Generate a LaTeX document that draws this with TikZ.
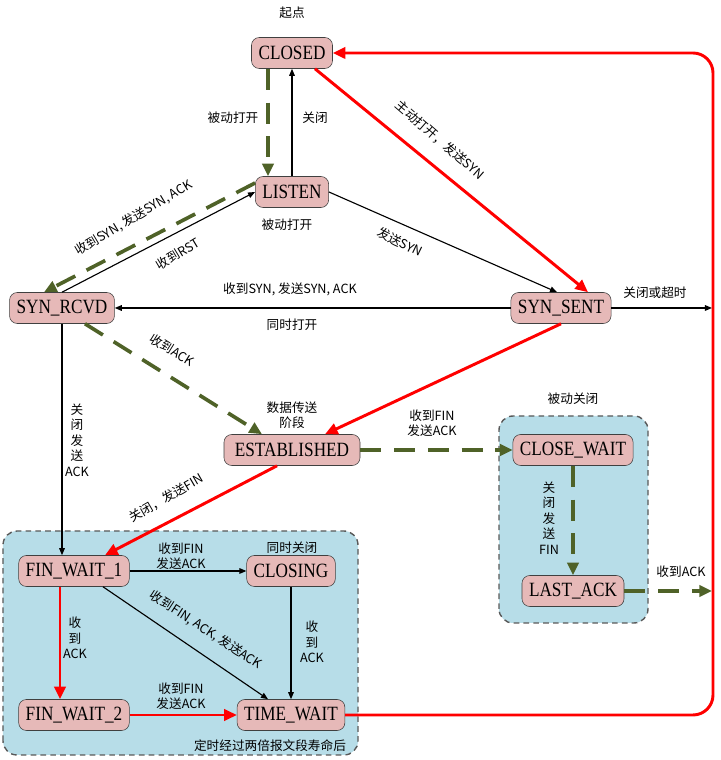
\documentclass[tikz,border=0pt]{standalone}
\usepackage{fontspec}
\setmainfont{Noto Sans CJK SC}
\newfontfamily\statefont[FakeStretch=0.85]{Liberation Serif}
\usetikzlibrary{arrows.meta}
\definecolor{statefill}{RGB}{230,185,184}
\definecolor{stateline}{RGB}{64,64,64}
\definecolor{groupfill}{RGB}{183,221,232}
\definecolor{groupline}{RGB}{89,89,89}
\definecolor{passive}{RGB}{79,98,40}
\definecolor{active}{RGB}{255,0,0}

\tikzset{
  state/.style={draw=stateline,fill=statefill,rounded corners=5.5pt,minimum height=0.775cm,inner xsep=5pt,font=\Large\statefont},
  group/.style={draw=groupline,fill=groupfill,dash pattern=on 4pt off 3pt,rounded corners=10pt,line width=1pt},
  normal/.style={-{Triangle[length=5pt,width=4pt]},line width=0.8pt,black},
  client/.style={-{Triangle[length=9pt,width=8pt]},line width=2.1pt,active},
  server/.style={-{Triangle[length=9pt,width=8pt]},line width=2.6pt,passive,dash pattern=on 15pt off 9pt},
}

\begin{document}
\begin{tikzpicture}
%\draw[step=1cm,gray,very thin] (0,0) grid (18,19); %background grid
\useasboundingbox (0,0) rectangle (18,19);

\draw[group] (0.075,0.125) rectangle (8.95,5.725);
\draw[group] (12.475,3.425) rectangle (16.2,8.6);

\node[state] (closed) at (7.3,17.675) {CLOSED};
\node[state] (listen) at (7.3,14.2) {LISTEN};
\node[state] (synrcvd) at (1.55,11.3) {SYN\_RCVD};
\node[state] (synsent) at (14.025,11.3) {SYN\_SENT};
\node[state,minimum width=3.4cm] (estab) at (7.3,7.75) {ESTABLISHED};
\node[state] (closewait) at (14.325,7.75) {CLOSE\_WAIT};
\node[state] (lastack) at (14.325,4.225) {LAST\_ACK};
\node[state] (finwaita) at (1.85,4.725) {FIN\_WAIT\_1};
\node[state] (closing) at (7.275,4.725) {CLOSING};
\node[state] (finwaitb) at (1.85,1.125) {FIN\_WAIT\_2};
\node[state] (timewait) at (7.275,1.125) {TIME\_WAIT};

\coordinate (timeout) at (17.8,11.3);
\coordinate (lastout) at (17.8,4.225);
\coordinate (loop) at (17.825,9);

\node[] (startlbl) at (7.3,18.675) {\small 起点};
\node[] (passopen) at (5.825,16.05) {\small 被动打开};
\node[] (closelbl) at (7.875,16.05) {\small 关闭};
\node[] (passopenb) at (7.175,13.375) {\small 被动打开};
\node[rotate=31] (rcvsyn) at (3.35,13.55) {\small 收到SYN, 发送SYN, ACK};
\node[rotate=31] (rcvrst) at (4.45,12.65) {\small 收到RST};
\node[rotate=-41] (actopen) at (11.0,15.5) {\small 主动打开，发送SYN};
\node[rotate=-26] (sendsyn) at (10.0,12.95) {\small 发送SYN};
\node[] (rcvsynb) at (7.25,11.775) {\small 收到SYN, 发送SYN, ACK};
\node[] (simopen) at (7.3,10.875) {\small 同时打开};
\node[] (timeoutlbl) at (16.375,11.675) {\small 关闭或超时};
\node[rotate=-32] (rcvack) at (4.3,10.25) {\small 收到ACK};
\node[align=center,font=\small] (closeack) at (1.925,8.0) {关\\闭\\发\\送\\ACK};
\node[align=center,font=\small] (datalbl) at (7.3,8.625) {数据传送\\阶段};
\node[align=center,font=\small] (rcvfin) at (10.8,8.425) {收到FIN\\发送ACK};
\node[] (passclose) at (14.325,9.025) {\small 被动关闭};
\node[align=center,font=\small] (closefin) at (13.725,6.05) {关\\闭\\发\\送\\FIN};
\node[] (rcvackb) at (17.025,4.7) {\small 收到ACK};
\node[rotate=30] (actclose) at (4.15,6.55) {\small 关闭，发送FIN};
\node[align=center,font=\small] (rcvfinb) at (4.525,5.1) {收到FIN\\发送ACK};
\node[] (simclose) at (7.3,5.3) {\small 同时关闭};
\node[rotate=-33] (rcvfinack) at (5.15,3.25) {\small 收到FIN, ACK, 发送ACK};
\node[align=center,font=\small] (rcvackc) at (1.875,3.05) {收\\到\\ACK};
\node[align=center,font=\small] (rcvackd) at (7.8,2.95) {收\\到\\ACK};
\node[align=center,font=\small] (rcvfinc) at (4.525,1.6) {收到FIN\\发送ACK};
\node[] (msllbl) at (6.75,0.35) {\small 定时经过两倍报文段寿命后};

\draw[server] ([xshift=-0.6cm]closed.south) -- ([xshift=-0.6cm]listen.north);
\draw[normal] (listen.north) -- (closed.south);
\draw[server] ([yshift=0.225cm]listen.west) -- ([xshift=-0.45cm]synrcvd.north);
\draw[normal] (synrcvd.north) -- (listen.west);
\draw[client] ([xshift=0.575cm]closed.south) -- ([xshift=0.675cm]synsent.north);
\draw[normal] (listen.east) -- ([xshift=-0.1cm]synsent.north);
\draw[normal] (synsent.west) -- (synrcvd.east);
\draw[normal] (synsent.east) -- (timeout);
\draw[client,rounded corners=0.5cm] (timewait.east) -| (loop) |- (closed.east);
\draw[server] ([xshift=0.575cm]synrcvd.south) -- ([xshift=-0.75cm]estab.north);
\draw[normal] (synrcvd.south) -- (synrcvd.south |- finwaita.north);
\draw[client] (synsent.south) -- ([xshift=0.825cm]estab.north);
\draw[server] (estab.east) -- (closewait.west);
\draw[server] (closewait.south) -- (lastack.north);
\draw[server] (lastack.east) -- (lastout);
\draw[client] ([xshift=-0.375cm]estab.south) -- ([xshift=0.775cm]finwaita.north);
\draw[normal] (finwaita.east) -- (closing.west);
\draw[normal] ([xshift=0.725cm]finwaita.south) -- ([xshift=-0.575cm]timewait.north);
\draw[client] ([xshift=-0.35cm]finwaita.south) -- ([xshift=-0.35cm]finwaitb.north);
\draw[normal] (closing.south) -- (timewait.north);
\draw[client] (finwaitb.east) -- (timewait.west);

\end{tikzpicture}
\end{document}
